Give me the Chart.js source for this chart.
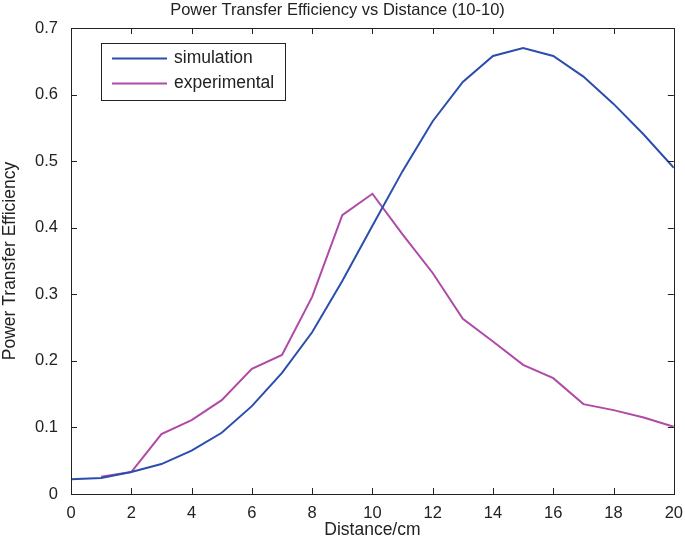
<!DOCTYPE html>
<html>
<head>
<meta charset="utf-8">
<script src="https://cdn.jsdelivr.net/npm/chart.js@4"></script>
<style>
  html, body { margin: 0; padding: 0; background: #fff; }
  #wrap { width: 685px; height: 542px; }
</style>
</head>
<body>
<div id="wrap"><canvas id="effChart"></canvas></div>
<script>
// data
const distance = [0, 1, 2, 3, 4, 5, 6, 7, 8, 9, 10, 11, 12, 13, 14, 15, 16, 17, 18, 19, 20];
const simulation = [0.022, 0.024, 0.033, 0.045, 0.065, 0.092, 0.132, 0.182, 0.243, 0.320, 0.403,
    0.485, 0.560, 0.619, 0.658, 0.670, 0.658, 0.627, 0.586, 0.540, 0.490];
const experimental = [null, 0.026, 0.033, 0.090, 0.111, 0.141, 0.188, 0.209, 0.296, 0.419, 0.451,
    0.390, 0.332, 0.263, 0.229, 0.194, 0.174, 0.135, 0.126, 0.115, 0.101];
const xTicks = [0, 2, 4, 6, 8, 10, 12, 14, 16, 18, 20];
const yTicks = [0, 0.1, 0.2, 0.3, 0.4, 0.5, 0.6, 0.7];

const FONT = 'Liberation Sans, Arial, Helvetica, sans-serif';
const INK = '#222';

const toPoints = (vals) => distance.map((d, i) => ({ x: d, y: vals[i] }));

// box around the axes with inward ticks on all four sides, matlab style
const frameTicks = {
    id: 'frameTicks',
    afterDraw(chart) {
        const { ctx, chartArea: a, scales } = chart;
        const len = 6;
        ctx.save();
        ctx.strokeStyle = INK;
        ctx.lineWidth = 1;
        ctx.beginPath();
        xTicks.forEach(v => {
            const px = Math.round(scales.x.getPixelForValue(v)) + 0.5;
            ctx.moveTo(px, a.bottom); ctx.lineTo(px, a.bottom - len);
            ctx.moveTo(px, a.top); ctx.lineTo(px, a.top + len);
        });
        yTicks.forEach(v => {
            const py = Math.round(scales.y.getPixelForValue(v)) + 0.5;
            ctx.moveTo(a.left, py); ctx.lineTo(a.left + len, py);
            ctx.moveTo(a.right, py); ctx.lineTo(a.right - len, py);
        });
        ctx.stroke();
        ctx.strokeRect(Math.round(a.left) + 0.5, Math.round(a.top) + 0.5,
            Math.round(a.right - a.left), Math.round(a.bottom - a.top));
        ctx.restore();
    }
};

// legend box in the top-left corner of the axes
const boxLegend = {
    id: 'boxLegend',
    afterDraw(chart) {
        const { ctx, chartArea: a } = chart;
        const x0 = a.left + 30, y0 = a.top + 15, w = 184, h = 57;
        ctx.save();
        ctx.fillStyle = '#fff';
        ctx.fillRect(x0, y0, w, h);
        ctx.strokeStyle = INK;
        ctx.lineWidth = 1;
        ctx.strokeRect(x0 + 0.5, y0 + 0.5, w, h);
        ctx.font = '17.5px ' + FONT;
        ctx.textBaseline = 'middle';
        chart.data.datasets.forEach((ds, i) => {
            const yy = y0 + 15.5 + i * 25;
            ctx.strokeStyle = ds.borderColor;
            ctx.lineWidth = 2;
            ctx.beginPath();
            ctx.moveTo(x0 + 11, yy); ctx.lineTo(x0 + 66, yy);
            ctx.stroke();
            ctx.fillStyle = INK;
            ctx.fillText(ds.label, x0 + 73, yy);
        });
        ctx.restore();
    }
};

const ctx = document.getElementById('effChart').getContext('2d');
// eslint-disable-next-line no-undef
const effChart = new Chart(ctx, {
    type: 'line',
    data: {
        datasets: [{
            label: 'simulation',
            data: toPoints(simulation),
            borderColor: '#2b4ead',
            borderWidth: 2,
            pointRadius: 0,
            tension: 0
        }, {
            label: 'experimental',
            data: toPoints(experimental),
            borderColor: '#b04aa7',
            borderWidth: 2,
            pointRadius: 0,
            tension: 0
        }]
    },
    options: {
        responsive: true,
        maintainAspectRatio: false,
        animation: false,
        layout: { padding: { top: 0, right: 10, left: 0, bottom: 0 } },
        plugins: {
            legend: { display: false },
            tooltip: { enabled: false },
            title: {
                display: true,
                text: 'Power Transfer Efficiency vs Distance (10-10)',
                color: INK,
                font: { family: FONT, size: 16.5, weight: 'normal', lineHeight: 1.2 },
                padding: { top: 1, bottom: 7.2 }
            }
        },
        scales: {
            x: {
                type: 'linear',
                min: 0,
                max: 20,
                afterBuildTicks: (s) => { s.ticks = xTicks.map(v => ({ value: v })); },
                afterFit: (s) => { s.height = 48; },
                grid: { display: false },
                border: { display: false },
                ticks: {
                    color: INK,
                    padding: 2,
                    maxRotation: 0,
                    font: { family: FONT, size: 16.5 }
                },
                title: {
                    display: true,
                    text: 'Distance/cm',
                    color: INK,
                    font: { family: FONT, size: 17.5 },
                    padding: { top: 0, bottom: 1 }
                }
            },
            y: {
                min: 0,
                max: 0.7,
                afterBuildTicks: (s) => { s.ticks = yTicks.map(v => ({ value: v })); },
                afterFit: (s) => { s.width = 71; },
                grid: { display: false },
                border: { display: false },
                ticks: {
                    color: INK,
                    padding: 5,
                    font: { family: FONT, size: 16.5 },
                    callback: (v) => (v === 0 ? '0' : v.toFixed(1))
                },
                title: {
                    display: true,
                    text: 'Power Transfer Efficiency',
                    color: INK,
                    font: { family: FONT, size: 17.5 },
                    padding: { top: 0, bottom: 0 }
                }
            }
        }
    },
    plugins: [frameTicks, boxLegend]
});
</script>
</body>
</html>
